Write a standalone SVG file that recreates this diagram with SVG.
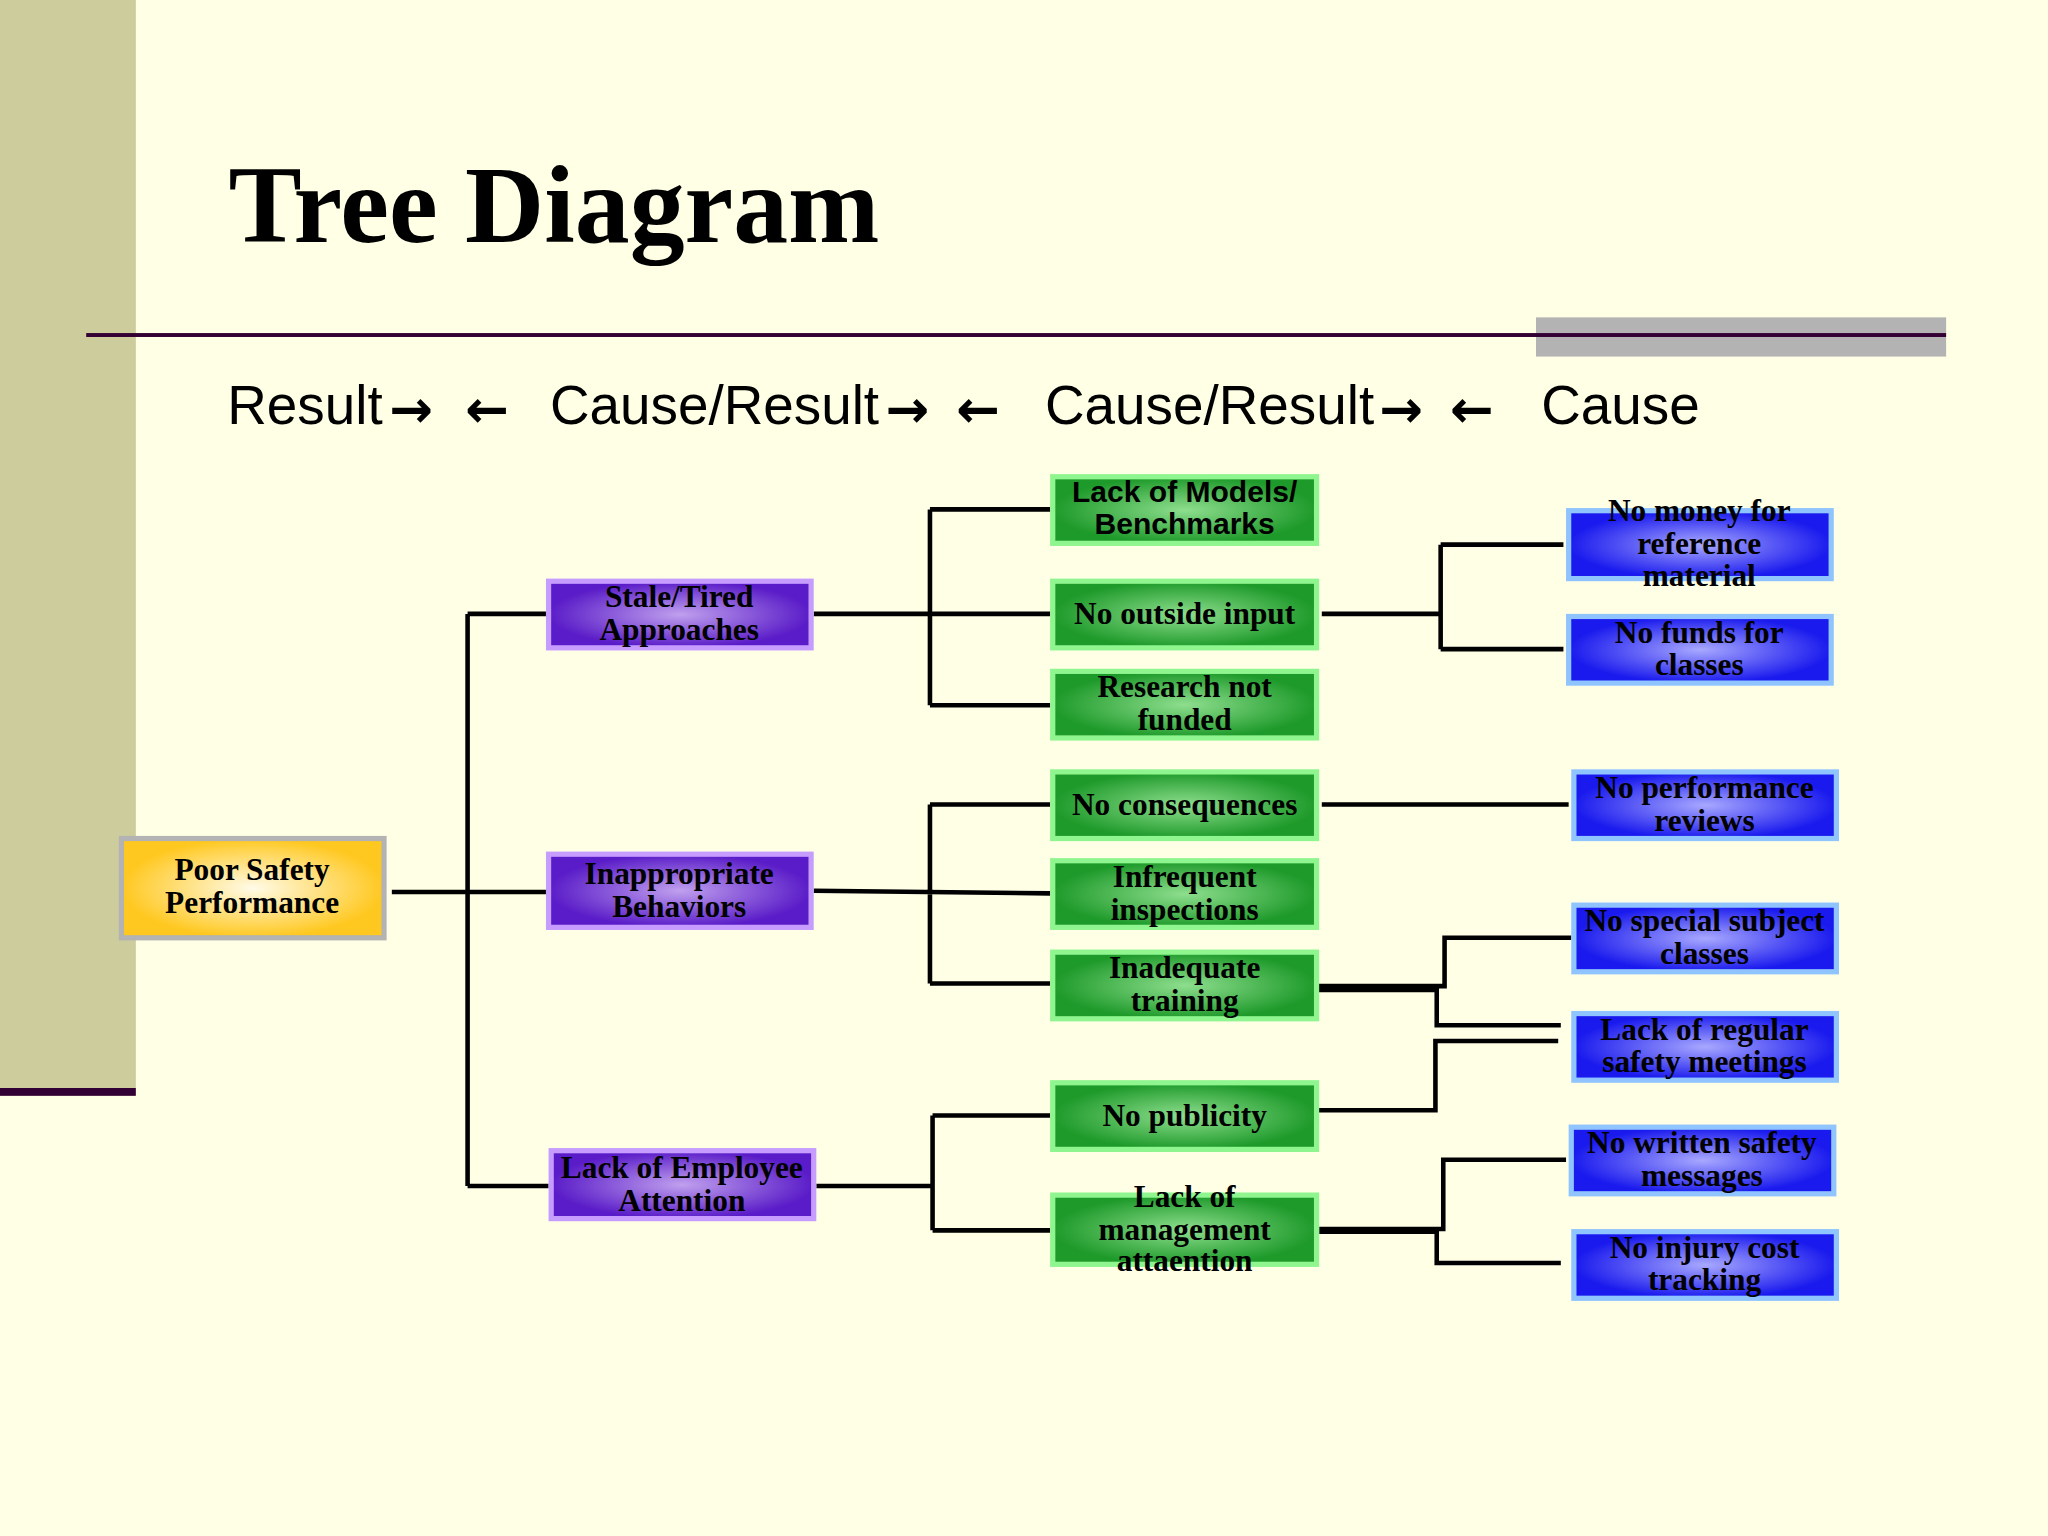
<svg xmlns="http://www.w3.org/2000/svg" width="2048" height="1536" viewBox="0 0 2048 1536">
<defs>
<radialGradient id="gold"><stop offset="0" stop-color="#fffbe8"/><stop offset="1" stop-color="#ffc820"/></radialGradient>
<radialGradient id="purp"><stop offset="0" stop-color="#c0a0ee"/><stop offset="1" stop-color="#5a1cc8"/></radialGradient>
<radialGradient id="grn"><stop offset="0" stop-color="#8ede8e"/><stop offset="1" stop-color="#1e9a2a"/></radialGradient>
<radialGradient id="blu"><stop offset="0" stop-color="#a8a8ff"/><stop offset="1" stop-color="#1a1aee"/></radialGradient>
<style>
.t{font-family:"Liberation Serif","Times New Roman",serif;font-weight:bold;font-size:24px;fill:#000;text-anchor:middle}
.s{font-family:"Liberation Sans",Arial,sans-serif;font-weight:bold;font-size:23px;fill:#000;text-anchor:middle}
.h{font-family:"Liberation Sans",Arial,sans-serif;font-size:42px;fill:#000}
.a{font-family:"DejaVu Sans",sans-serif;font-weight:bold;font-size:40px;fill:#000}
.g rect{stroke-width:4}
.pu rect{fill:url(#purp);stroke:#c79cff}
.gr rect{fill:url(#grn);stroke:#8ff58f}
.bl rect{fill:url(#blu);stroke:#8fc4ff}
#conn path{fill:none;stroke:#000;stroke-width:3.5}
</style>
</defs>
<rect width="2048" height="1536" fill="#ffffe6"/>
<g transform="scale(1.30612)">
<rect x="0" y="0" width="104" height="833" fill="#cccc9c"/>
<rect x="0" y="833" width="104" height="6" fill="#330033"/>
<text x="175" y="185" style="font-family:'Liberation Serif',serif;font-weight:bold;font-size:84px">Tree Diagram</text>
<rect x="1176" y="243" width="314" height="30" fill="#b3b3b3"/>
<rect x="66" y="255" width="1424" height="3" fill="#330033"/>
<text class="h" x="174" y="325">Result</text>
<text class="a" x="298" y="327">→</text>
<text class="a" x="356" y="327">←</text>
<text class="h" x="421" y="325">Cause/Result</text>
<text class="a" x="678" y="327">→</text>
<text class="a" x="732" y="327">←</text>
<text class="h" x="800" y="325">Cause/Result</text>
<text class="a" x="1056" y="327">→</text>
<text class="a" x="1110" y="327">←</text>
<text class="h" x="1180" y="325">Cause</text>

<g id="conn">
<path d="M300 683H358M358 470V908M358 470H418M358 683H418M358 908H420"/>
<path d="M623 470H804M712 390V540M712 390H804M712 540H804"/>
<path d="M623 682L804 684M712 616V753M712 616H804M712 753H804"/>
<path d="M625 908H714M714 854V942M714 854H804M714 942H804"/>
<path d="M1012 470H1103M1103 417V497M1103 417H1197M1103 497H1197"/>
<path d="M1012 616H1201"/>
<path d="M1008 755H1106V718H1203M1008 758H1100V785H1195"/>
<path d="M1008 850H1099V797H1193"/>
<path d="M1010 941H1105V888H1199M1010 943H1100V967H1195"/>
</g>

<g id="n-poor" class="g"><rect x="93" y="642" width="201" height="76" fill="url(#gold)" stroke="#b3b3b3"/><text class="t" x="193" y="674">Poor Safety</text><text class="t" x="193" y="699">Performance</text></g>

<g id="n-stale" class="g pu"><rect x="420" y="445" width="201" height="51"/><text class="t" x="520" y="465">Stale/Tired</text><text class="t" x="520" y="490">Approaches</text></g>
<g id="n-inap" class="g pu"><rect x="420" y="654" width="201" height="56"/><text class="t" x="520" y="677">Inappropriate</text><text class="t" x="520" y="702">Behaviors</text></g>
<g id="n-lackemp" class="g pu"><rect x="422" y="881" width="201" height="52"/><text class="t" x="522" y="902">Lack of Employee</text><text class="t" x="522" y="927">Attention</text></g>

<g id="n-models" class="g gr"><rect x="806" y="365" width="202" height="51"/><text class="s" x="907" y="384">Lack of Models/</text><text class="s" x="907" y="409">Benchmarks</text></g>
<g id="n-outside" class="g gr"><rect x="806" y="445" width="202" height="51"/><text class="t" x="907" y="478">No outside input</text></g>
<g id="n-research" class="g gr"><rect x="806" y="514" width="202" height="51"/><text class="t" x="907" y="534">Research not</text><text class="t" x="907" y="559">funded</text></g>
<g id="n-conseq" class="g gr"><rect x="806" y="591" width="202" height="51"/><text class="t" x="907" y="624">No consequences</text></g>
<g id="n-infreq" class="g gr"><rect x="806" y="659" width="202" height="51"/><text class="t" x="907" y="679">Infrequent</text><text class="t" x="907" y="704">inspections</text></g>
<g id="n-inadeq" class="g gr"><rect x="806" y="729" width="202" height="51"/><text class="t" x="907" y="749">Inadequate</text><text class="t" x="907" y="774">training</text></g>
<g id="n-public" class="g gr"><rect x="806" y="829" width="202" height="51"/><text class="t" x="907" y="862">No publicity</text></g>
<g id="n-mgmt" class="g gr"><rect x="806" y="915" width="202" height="53"/><text class="t" x="907" y="924">Lack of</text><text class="t" x="907" y="949">management</text><text class="t" x="907" y="973">attaention</text></g>

<g id="n-money" class="g bl"><rect x="1201" y="391" width="201" height="52"/><text class="t" x="1301" y="399">No money for</text><text class="t" x="1301" y="424">reference</text><text class="t" x="1301" y="449">material</text></g>
<g id="n-funds" class="g bl"><rect x="1201" y="472" width="201" height="51"/><text class="t" x="1301" y="492">No funds for</text><text class="t" x="1301" y="517">classes</text></g>
<g id="n-perf" class="g bl"><rect x="1205" y="591" width="201" height="51"/><text class="t" x="1305" y="611">No performance</text><text class="t" x="1305" y="636">reviews</text></g>
<g id="n-special" class="g bl"><rect x="1205" y="693" width="201" height="51"/><text class="t" x="1305" y="713">No special subject</text><text class="t" x="1305" y="738">classes</text></g>
<g id="n-regular" class="g bl"><rect x="1205" y="776" width="201" height="51"/><text class="t" x="1305" y="796">Lack of regular</text><text class="t" x="1305" y="821">safety meetings</text></g>
<g id="n-written" class="g bl"><rect x="1203" y="863" width="201" height="51"/><text class="t" x="1303" y="883">No written safety</text><text class="t" x="1303" y="908">messages</text></g>
<g id="n-injury" class="g bl"><rect x="1205" y="943" width="201" height="51"/><text class="t" x="1305" y="963">No injury cost</text><text class="t" x="1305" y="988">tracking</text></g>
</g>
</svg>
